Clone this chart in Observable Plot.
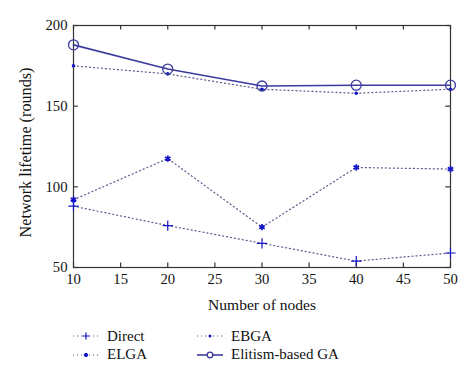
<!DOCTYPE html>
<html>
<head>
<meta charset="utf-8">
<script src="https://cdn.jsdelivr.net/npm/d3@7"></script>
<script src="https://cdn.jsdelivr.net/npm/@observablehq/plot@0.6"></script>
<style>
  body { margin: 0; background: #fff; }
  #wrap { position: relative; width: 474px; height: 381px; font-family: "Liberation Serif", "Times New Roman", serif; }
  #legend { position: absolute; left: 0; top: 0; width: 474px; height: 381px; pointer-events: none; }
  .item { position: absolute; display: flex; align-items: center; font-size: 15px; color: #111; font-family: "Liberation Serif", "Times New Roman", serif; }
  .item svg { margin-right: 7px; }
</style>
</head>
<body>
<div id="wrap"><div id="chart"></div><div id="legend"></div></div>
<script>
const nodes = [10, 20, 30, 40, 50];
const direct = [88, 76, 65, 54, 59];
const elga = [92, 117.5, 75, 112, 111];
const ebga = [175, 170, 160.5, 158, 160.5];
const elitism = [188, 173, 162.5, 163, 163];
const seriesNames = ["Direct", "ELGA", "EBGA", "Elitism-based GA"];
const xTicks = [10, 15, 20, 25, 30, 35, 40, 45, 50];
const yTicks = [50, 100, 150, 200];
const xLabel = "Number of nodes";
const yLabel = "Network lifetime (rounds)";

const rows = (vals, name) => nodes.map((n, i) => ({x: n, y: vals[i], s: name}));
const dDirect = rows(direct, seriesNames[0]);
const dElga = rows(elga, seriesNames[1]);
const dEbga = rows(ebga, seriesNames[2]);
const dElit = rows(elitism, seriesNames[3]);

const lineCol = "#3b3b9e";
const dotCol = "#5a5a8c";
const markCol = "#1515c8";
const axisCol = "#333";
const dash = "1.1,2.9";
const serif = "'Liberation Serif', 'Times New Roman', serif";

const chart = Plot.plot({
  width: 474,
  height: 320,
  marginLeft: 73,
  marginRight: 24,
  marginTop: 25,
  marginBottom: 53,
  style: {fontFamily: serif, fontSize: "14.7px", color: "#111", background: "#fff"},
  x: {domain: [10, 50], ticks: xTicks},
  y: {domain: [50, 200], ticks: yTicks},
  marks: [
    Plot.frame({stroke: axisCol, strokeWidth: 1.2}),
    Plot.ruleX(xTicks, {y1: 50, y2: 50 + 2.8, stroke: axisCol, strokeWidth: 1.2}),
    Plot.ruleX(xTicks, {y1: 200, y2: 200 - 2.8, stroke: axisCol, strokeWidth: 1.2}),
    Plot.ruleY(yTicks, {x1: 10, x2: 10 + 0.5, stroke: axisCol, strokeWidth: 1.2}),
    Plot.ruleY(yTicks, {x1: 50, x2: 50 - 0.5, stroke: axisCol, strokeWidth: 1.2}),
    Plot.axisX({ticks: xTicks, tickSize: 0, tickPadding: 6, label: null, fontSize: 14.7}),
    Plot.axisY({ticks: yTicks, tickSize: 0, tickPadding: 6, label: null, fontSize: 14.7}),
    Plot.text([xLabel], {frameAnchor: "bottom", dy: 38, lineAnchor: "middle", fontSize: 15.6, fill: "#111", className: "xlab"}),
    Plot.text([yLabel], {frameAnchor: "left", dx: -48, dy: 6, rotate: -90, lineAnchor: "middle", textAnchor: "middle", fontSize: 16.5, fill: "#111", className: "ylab"}),
    Plot.line(dDirect, {x: "x", y: "y", stroke: dotCol, strokeWidth: 1.2, strokeDasharray: dash}),
    Plot.line(dElga, {x: "x", y: "y", stroke: dotCol, strokeWidth: 1.2, strokeDasharray: dash}),
    Plot.line(dEbga, {x: "x", y: "y", stroke: dotCol, strokeWidth: 1.2, strokeDasharray: dash}),
    Plot.line(dElit, {x: "x", y: "y", stroke: lineCol, strokeWidth: 1.6}),
    Plot.dot(dDirect, {x: "x", y: "y", symbol: "plus", r: 3.4, stroke: markCol, strokeWidth: 1.2}),
    Plot.dot(dElga, {x: "x", y: "y", symbol: "asterisk", r: 3, stroke: markCol, strokeWidth: 1.8}),
    Plot.dot(dEbga, {x: "x", y: "y", r: 1.8, fill: markCol, stroke: "none"}),
    Plot.dot(dElit, {x: "x", y: "y", r: 5, stroke: lineCol, fill: "none", strokeWidth: 1.3})
  ]
});
document.getElementById("chart").appendChild(chart);

// fit axis-label font sizes to the lengths measured on the reference
function fit(sel, target) {
  const t = chart.querySelector(sel + " text");
  if (!t) return;
  const len = t.getComputedTextLength();
  const fs = parseFloat(getComputedStyle(t).fontSize) || 15;
  if (len > 0) t.setAttribute("font-size", (fs * target / len).toFixed(2));
}
fit(".xlab", 108);
fit(".ylab", 170);

const legend = document.getElementById("legend");
const items = [
  {name: seriesNames[0], left: 72, top: 336, kind: "plus"},
  {name: seriesNames[1], left: 72, top: 354.5, kind: "asterisk"},
  {name: seriesNames[2], left: 196, top: 336, kind: "dot"},
  {name: seriesNames[3], left: 196, top: 354.5, kind: "circle"}
];
for (const it of items) {
  const div = document.createElement("div");
  div.className = "item";
  div.style.left = it.left + "px";
  div.style.top = (it.top - 9) + "px";
  div.style.height = "18px";
  const svg = d3.create("svg").attr("width", 28).attr("height", 18);
  if (it.kind === "circle") {
    svg.append("line").attr("x1", 1).attr("x2", 27).attr("y1", 9).attr("y2", 9).attr("stroke", lineCol).attr("stroke-width", 1.6);
    svg.append("circle").attr("cx", 14).attr("cy", 9).attr("r", 2.8).attr("fill", "#fff").attr("stroke", lineCol).attr("stroke-width", 1.3);
  } else {
    svg.append("line").attr("x1", 1).attr("x2", 27).attr("y1", 9).attr("y2", 9).attr("stroke", dotCol).attr("stroke-width", 1.2).attr("stroke-dasharray", dash);
    if (it.kind === "plus") {
      svg.append("path").attr("d", d3.symbol(d3.symbolPlus, 18)()).attr("transform", "translate(14,9)").attr("stroke", markCol).attr("fill", "none").attr("stroke-width", 1.2);
    } else if (it.kind === "asterisk") {
      svg.append("path").attr("d", d3.symbol(d3.symbolAsterisk, 12)()).attr("transform", "translate(14,9)").attr("stroke", markCol).attr("fill", "none").attr("stroke-width", 1.8);
    } else {
      svg.append("circle").attr("cx", 14).attr("cy", 9).attr("r", 1.5).attr("fill", markCol);
    }
  }
  div.appendChild(svg.node());
  const span = document.createElement("span");
  span.textContent = it.name;
  div.appendChild(span);
  legend.appendChild(div);
}
// fit legend text width to reference ("Elitism-based GA" ≈ 108px)
const spans = legend.querySelectorAll(".item span");
const last = spans[spans.length - 1];
const w = last.getBoundingClientRect().width;
if (w > 0) {
  const fs = 15 * 108 / w;
  legend.querySelectorAll(".item").forEach(d => d.style.fontSize = fs.toFixed(2) + "px");
}
</script>
</body>
</html>
